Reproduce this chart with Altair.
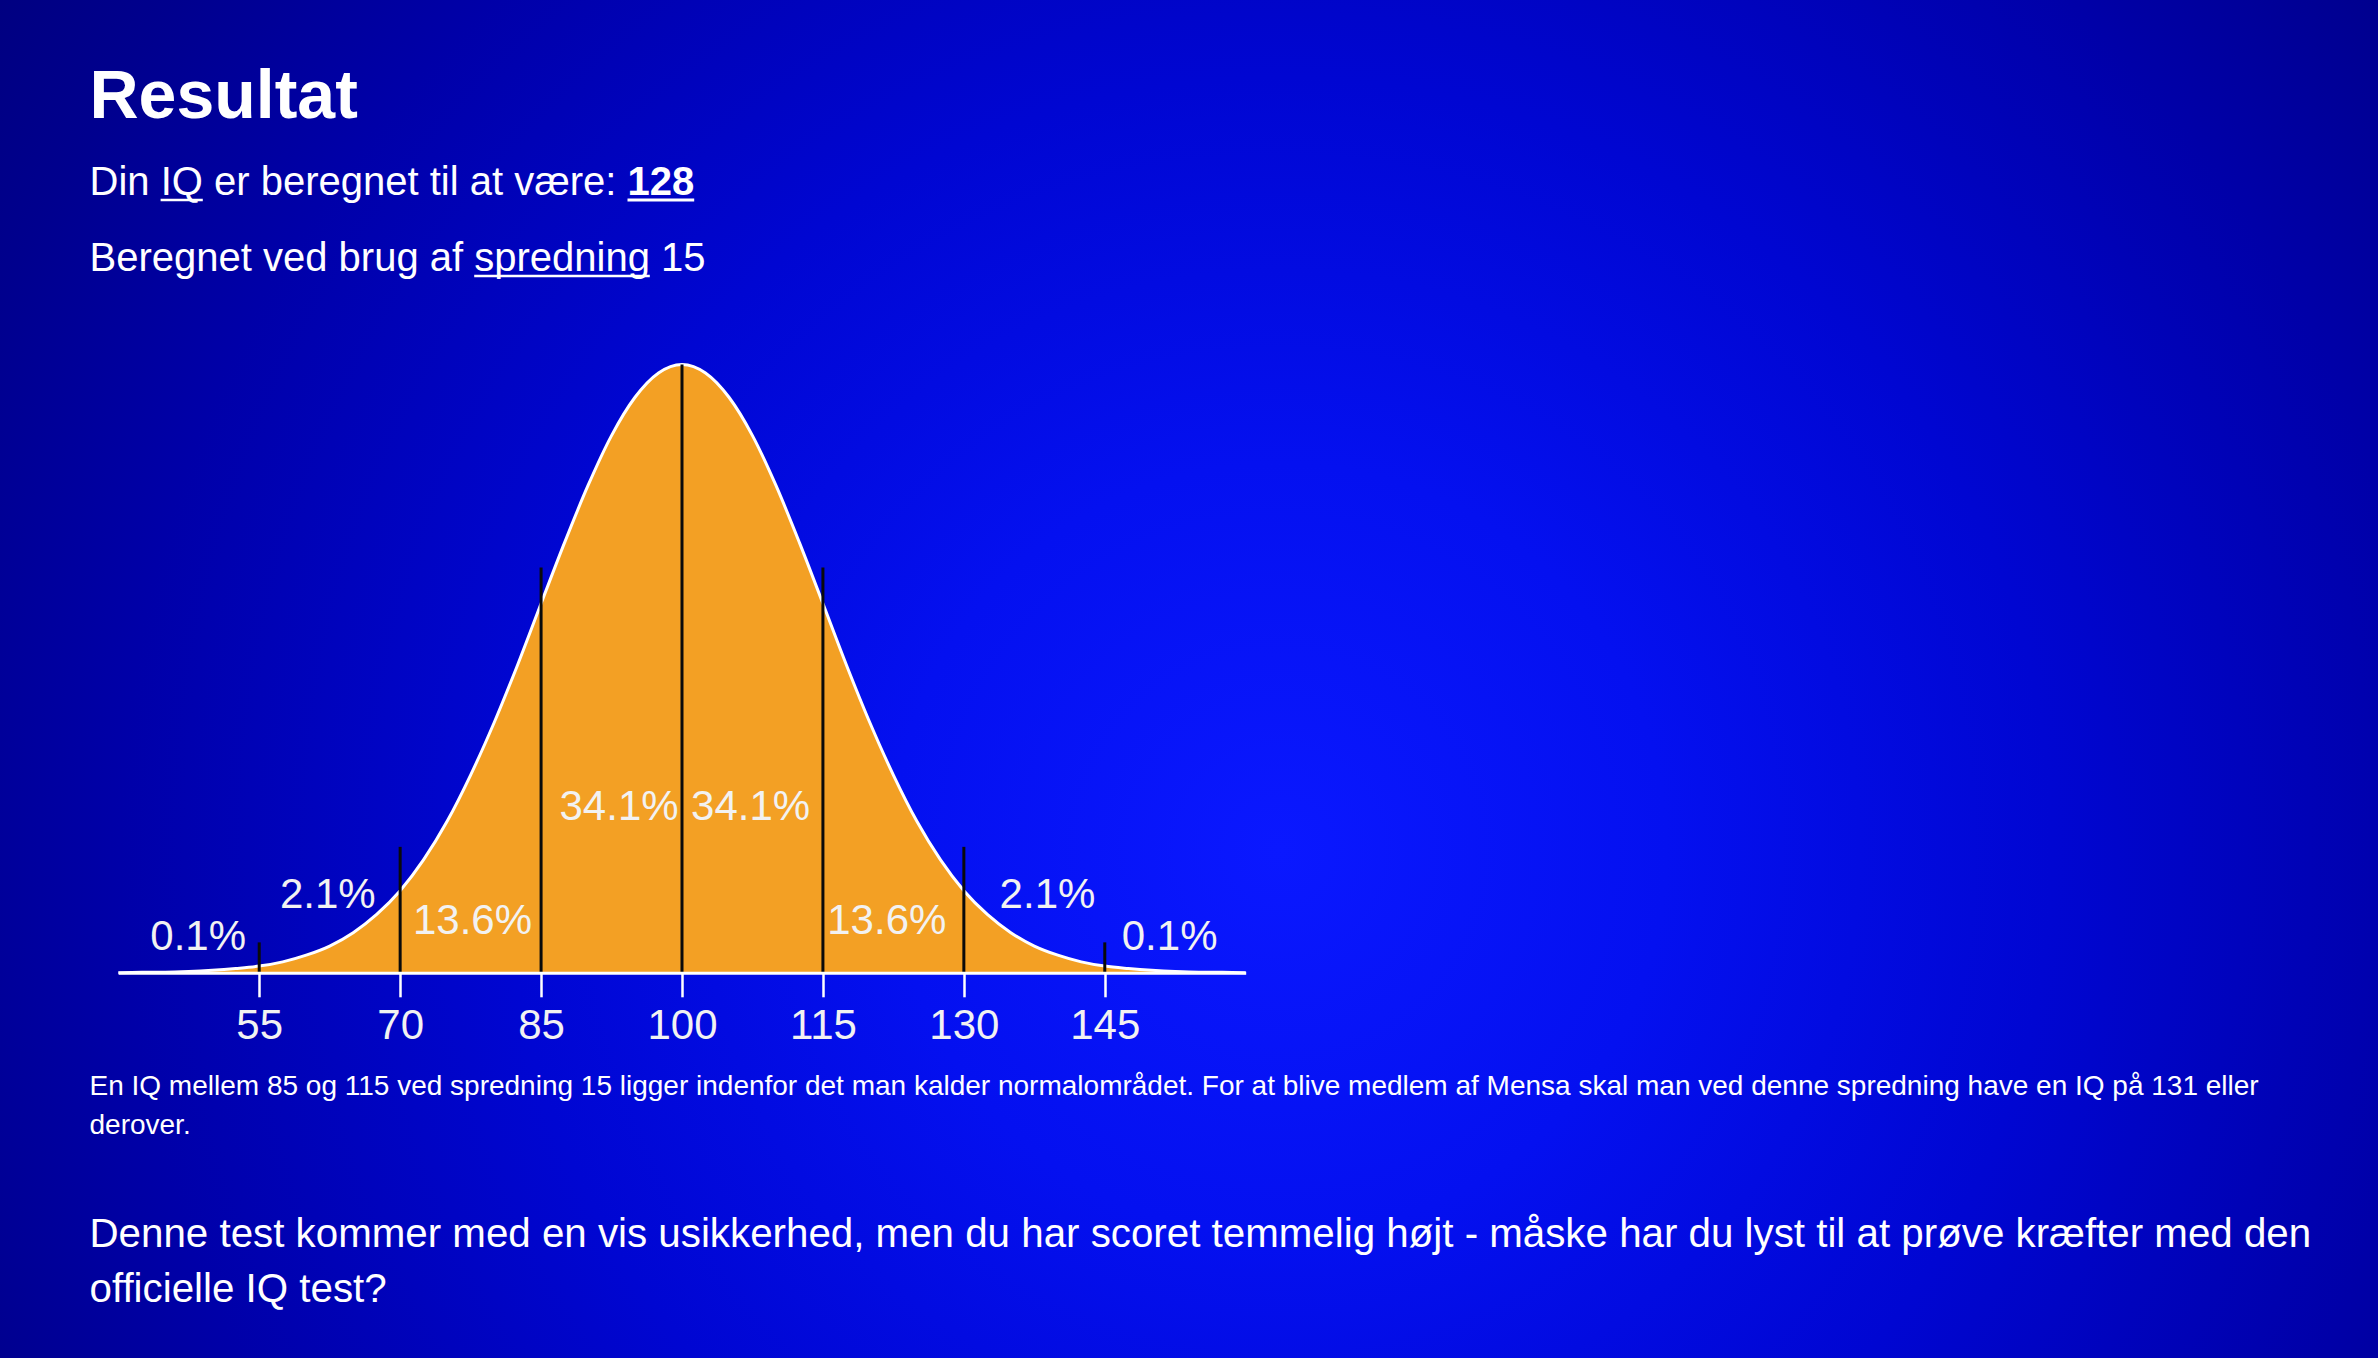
import altair as alt
import pandas as pd

# ---------------- data ----------------
# IQ grid and relative height of the bell curve (peak = 1)
iq = [40, 42.5, 45, 47.5, 50, 52.5, 55, 57.5, 60, 62.5, 65, 67.5, 70, 72.5, 75, 77.5,
      80, 82.5, 85, 87.5, 90, 92.5, 95, 97.5, 100, 102.5, 105, 107.5, 110, 112.5, 115,
      117.5, 120, 122.5, 125, 127.5, 130, 132.5, 135, 137.5, 140, 142.5, 145, 147.5,
      150, 152.5, 155, 157.5, 160]
height = [0.000, 0.001, 0.001, 0.002, 0.004, 0.007, 0.011, 0.018, 0.029, 0.044, 0.066,
          0.096, 0.135, 0.186, 0.249, 0.325, 0.411, 0.506, 0.607, 0.707, 0.801, 0.883,
          0.946, 0.986, 1.000, 0.986, 0.946, 0.883, 0.801, 0.707, 0.607, 0.506, 0.411,
          0.325, 0.249, 0.186, 0.135, 0.096, 0.066, 0.044, 0.029, 0.018, 0.011, 0.007,
          0.004, 0.002, 0.001, 0.001, 0.000]

tick_values = [55, 70, 85, 100, 115, 130, 145]
sigma_iq = [55, 70, 85, 100, 115, 130, 145]
sigma_top = [0.05, 0.207, 0.666, 1.0, 0.666, 0.207, 0.05]

pct_labels = ["0.1%", "2.1%", "13.6%", "34.1%", "34.1%", "13.6%", "2.1%", "0.1%"]
pct_iq = [48.5, 62.3, 77.7, 93.3, 107.3, 121.8, 138.9, 151.9]
pct_h = [0.037, 0.107, 0.063, 0.251, 0.251, 0.063, 0.107, 0.037]

title_text = "Resultat"
line1_text = "Din IQ er beregnet til at være: "
iq_value = "128"
line2_text = "Beregnet ved brug af spredning 15"
small_lines = [
    "En IQ mellem 85 og 115 ved spredning 15 ligger indenfor det man kalder normalområdet. For at blive medlem af Mensa skal man ved denne spredning have en IQ på 131 eller",
    "derover.",
]
big_lines = [
    "Denne test kommer med en vis usikkerhed, men du har scoret temmelig højt - måske har du lyst til at prøve kræfter med den",
    "officielle IQ test?",
]

# ---------------- layout ----------------
W, H = 2378, 1358
X0, X1 = 118.3, 1245.7      # pixel range of IQ 40..160
Y0, Y1 = 972.8, 364.4       # pixel range of height 0..1
FONT = "Liberation Sans"
LEFT = 89.5

xscale = alt.Scale(domain=[40, 160], range=[X0, X1], nice=False, zero=False)
yscale = alt.Scale(domain=[0, 1], range=[Y0, Y1], nice=False, zero=False)
xaxis = alt.Axis(values=tick_values, orient="bottom", offset=-(H - Y0), title=None,
                 grid=False, domainColor="white", domainWidth=3, tickColor="white",
                 tickWidth=2.5, tickSize=24, labelColor="#f2f2f2", labelFont=FONT,
                 labelFontSize=42, labelPadding=9, labelFlush=False,
                 labelOverlap=False, format="d", zindex=1)

one = pd.DataFrame({"k": [0]})

bg = alt.Chart(one).mark_rect(
    fill=alt.Gradient(
        gradient="radial",
        stops=[alt.GradientStop(color="#0a18ff", offset=0),
               alt.GradientStop(color="#0410f0", offset=0.25),
               alt.GradientStop(color="#0006d2", offset=0.5),
               alt.GradientStop(color="#0000a8", offset=0.75),
               alt.GradientStop(color="#00008e", offset=0.9),
               alt.GradientStop(color="#000080", offset=1)],
        x1=0.538, y1=0.572, r1=0, x2=0.538, y2=0.572, r2=0.65),
    stroke=None,
).encode(x=alt.value(0), x2=alt.value(W), y=alt.value(0), y2=alt.value(H))

curve_df = pd.DataFrame({"iq": iq, "h": height})
area = alt.Chart(curve_df).mark_area(color="#F3A024", interpolate="monotone").encode(
    x=alt.X("iq:Q", scale=xscale, axis=xaxis),
    y=alt.Y("h:Q", scale=yscale, axis=None),
)
curve = alt.Chart(curve_df).mark_line(color="white", strokeWidth=3,
                                      interpolate="monotone").encode(
    x=alt.X("iq:Q", scale=xscale, axis=xaxis),
    y=alt.Y("h:Q", scale=yscale, axis=None),
)

sig_df = pd.DataFrame({"iq": sigma_iq, "top": sigma_top, "base": [0] * len(sigma_iq)})
rules = alt.Chart(sig_df).mark_rule(color="#0a0a0a", strokeWidth=3).encode(
    x=alt.X("iq:Q", scale=xscale, axis=xaxis),
    y=alt.Y("top:Q", scale=yscale, axis=None),
    y2="base:Q",
)

pct_df = pd.DataFrame({"iq": pct_iq, "h": pct_h, "label": pct_labels})
pct = alt.Chart(pct_df).mark_text(font=FONT, fontSize=42, color="#f2f2f2",
                                  align="center", baseline="alphabetic").encode(
    x=alt.X("iq:Q", scale=xscale, axis=xaxis),
    y=alt.Y("h:Q", scale=yscale, axis=None),
    text="label:N",
)


def page_text(txt, x, y, size, weight="normal"):
    return alt.Chart(pd.DataFrame({"t": [txt]})).mark_text(
        font=FONT, fontSize=size, fontWeight=weight, color="white",
        align="left", baseline="alphabetic",
    ).encode(x=alt.value(x), y=alt.value(y), text="t:N")


def underline(xa, xb, y, w=2.5):
    return alt.Chart(one).mark_rule(color="white", strokeWidth=w).encode(
        x=alt.value(xa), x2=alt.value(xb), y=alt.value(y))


texts = [
    page_text(title_text, LEFT, 118, 68, "bold"),
    page_text(line1_text, LEFT, 195, 40),
    page_text(iq_value, LEFT + 538, 195, 40, "bold"),
    page_text(line2_text, LEFT, 271, 40),
    page_text(small_lines[0], LEFT, 1095, 28),
    page_text(small_lines[1], LEFT, 1134, 28),
    page_text(big_lines[0], LEFT, 1247, 40.3),
    page_text(big_lines[1], LEFT, 1302, 40.3),
    underline(LEFT + 71.1, LEFT + 113.3, 200),
    underline(LEFT + 538, LEFT + 604.7, 200, 3),
    underline(LEFT + 384.7, LEFT + 560.3, 276),
]

chart = alt.layer(bg, area, curve, rules, pct, *texts).properties(
    width=W, height=H,
    autosize=alt.AutoSizeParams(type="none"),
    padding=0,
    background="#0000a0",
).configure_view(stroke=None)

chart.save("out.html", embed_options={"renderer": "svg", "actions": False})
